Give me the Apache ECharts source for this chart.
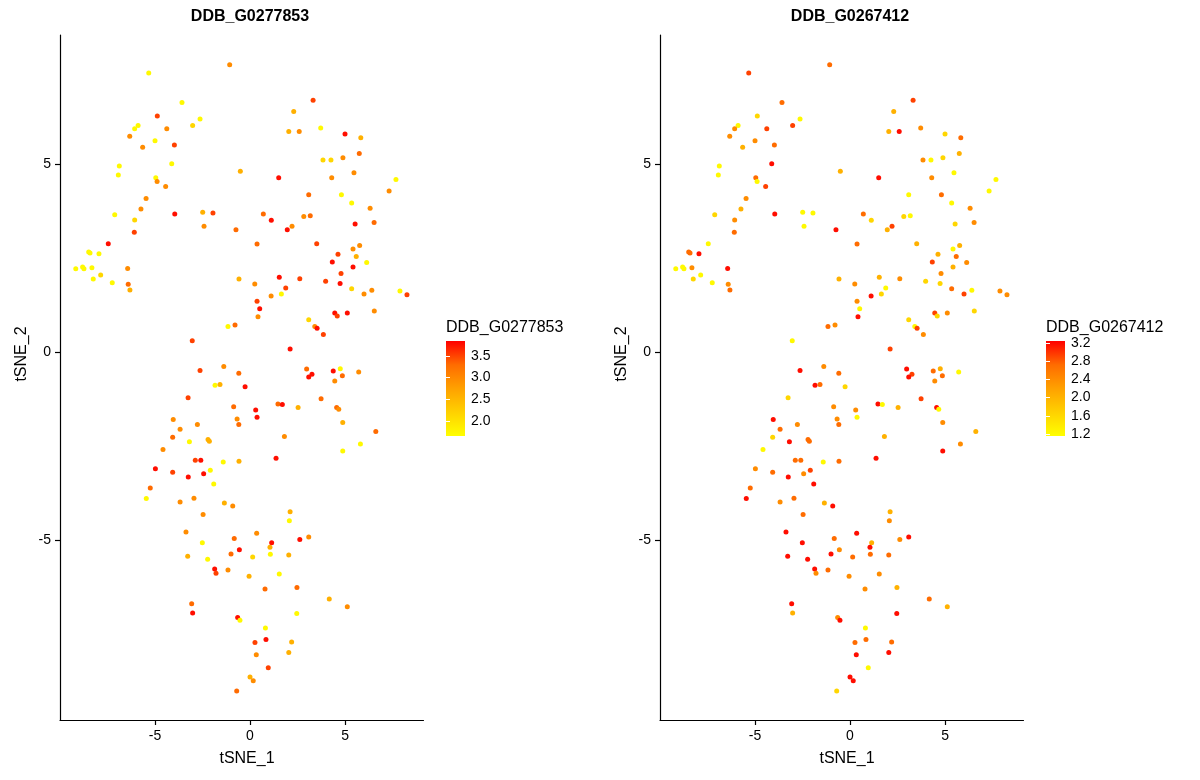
<!DOCTYPE html>
<html><head><meta charset="utf-8">
<script src="https://cdn.jsdelivr.net/npm/echarts@6/dist/echarts.min.js"></script>
<style>html,body{margin:0;padding:0;background:#fff}#c{width:1200px;height:780px}</style>
</head><body><div id="c"></div>
<script>
const genes = ['DDB_G0277853', 'DDB_G0267412'];
const axisNames = ['tSNE_1', 'tSNE_2'];
const tsne1 = [
 -1.07,-5.33,-3.58,-4.88,-2.63,-5.89,-6.07,-4.38,-3.02,-6.33,
 -5.00,-5.65,-3.98,-4.12,-6.88,-6.93,-0.51,-4.96,-4.89,-4.44,
 -5.47,-5.74,-7.12,-6.07,-3.96,-2.49,-1.95,-6.09,-2.42,-0.74,
 -7.46,-8.49,-8.42,-7.95,-9.17,-8.81,-8.74,-8.32,-6.44,-8.25,
 -7.86,-0.58,-7.25,-6.41,-6.32,
 3.32,2.30,2.04,2.59,3.72,5.00,5.83,3.84,4.26,4.89,
 5.75,1.51,4.30,5.47,7.68,7.32,3.09,4.81,5.35,6.32,
 0.70,1.12,2.83,3.17,1.96,2.21,5.53,6.53,0.37,3.51,
 4.63,5.42,5.77,5.59,6.14,4.33,5.42,4.79,1.54,2.62,
 3.98,4.74,1.88,0.25,1.11,1.65,5.35,6.00,6.41,7.89,
 8.26,0.37,0.51,0.42,6.54,4.46,4.59,5.12,3.09,3.41,
 3.53,3.86,2.11,2.98,3.26,3.09,4.38,4.75,4.86,4.46,
 5.72,-0.26,3.74,1.47,1.70,2.53,4.56,4.67,0.30,0.37,
 -0.59,4.88,6.62,1.81,5.81,4.88,1.37,-0.58,-1.16,-0.79,
 -3.04,-2.63,-1.38,-0.59,-1.84,-1.58,-3.26,-0.86,-4.04,-2.77,
 -0.68,-3.68,-4.07,-3.19,-2.21,-2.14,-4.58,-2.88,-2.59,-1.41,
 -4.98,-4.07,-3.25,-2.44,-2.09,-1.91,-5.25,-5.46,-2.95,-3.68,
 -1.35,-0.91,-2.47,2.11,2.07,-3.37,0.35,-0.83,-2.51,1.14,
 2.62,3.09,-0.56,1.05,-3.28,-2.23,-1.00,0.14,1.07,2.04,
 -1.86,-1.79,-1.16,-0.05,1.54,0.79,2.47,4.17,5.12,-3.07,
 -3.02,-0.65,-0.53,2.46,0.81,0.84,0.26,2.19,0.33,2.04,
 0.96,0.00,0.17,-0.70
];
const tsne2 = [
 7.63,7.41,6.63,6.27,6.19,6.02,5.93,5.93,6.02,5.73,
 5.61,5.44,5.50,5.00,4.94,4.70,4.80,4.63,4.53,4.40,
 4.08,3.80,3.65,3.51,3.67,3.71,3.69,3.18,3.34,3.25,
 2.88,2.66,2.63,2.61,2.21,2.26,2.21,2.24,2.22,1.94,
 2.05,1.94,1.84,1.80,1.65,
 6.69,6.39,5.86,5.86,5.95,5.79,5.69,5.10,5.10,5.16,
 5.27,4.63,4.63,4.76,4.58,4.28,4.18,4.18,3.96,3.82,
 3.67,3.50,3.60,3.62,3.25,3.34,3.40,3.44,2.87,2.88,
 2.60,2.74,2.83,2.54,2.38,2.39,2.26,2.09,1.99,1.95,
 1.88,1.82,1.70,1.81,1.49,1.54,1.68,1.54,1.64,1.62,
 1.52,1.35,1.15,0.94,1.09,1.04,0.96,1.04,0.86,0.68,
 0.63,0.47,0.08,-0.45,-0.59,-0.66,-0.50,-0.44,-0.63,-0.77,
 -0.53,-0.92,-1.24,-1.38,-1.39,-1.47,-1.47,-1.52,-1.54,-1.73,
 -1.92,-1.87,-2.11,-2.24,-2.44,-2.63,-2.82,-2.90,0.68,0.72,
 0.30,-0.49,-0.38,-0.56,-0.88,-0.86,-1.21,-1.45,-1.79,-1.92,
 -1.78,-2.05,-2.26,-2.38,-2.32,-2.37,-2.59,-2.87,-2.87,-2.92,
 -3.10,-3.19,-3.32,-3.23,-3.14,-3.50,-3.61,-3.89,-3.88,-3.98,
 -4.01,-4.09,-4.31,-4.24,-4.48,-4.78,-4.81,-4.95,-5.06,-5.06,
 -4.98,-4.91,-5.25,-5.18,-5.42,-5.50,-5.36,-5.44,-5.37,-5.39,
 -5.76,-5.87,-5.79,-5.95,-5.89,-6.29,-6.25,-6.56,-6.76,-6.68,
 -6.93,-7.05,-7.12,-6.94,-7.33,-7.63,-7.71,-7.70,-8.04,-7.98,
 -8.38,-8.63,-8.73,-9.00
];
const exprA = [
 2.97,1.73,1.73,3.51,1.73,1.73,1.73,2.97,2.14,2.97,
 1.73,2.97,3.51,1.73,1.73,1.73,2.58,1.73,2.97,2.97,
 2.97,2.97,1.73,2.14,3.77,2.58,3.51,3.51,2.97,3.30,
 3.77,1.73,1.73,1.73,1.73,1.73,1.73,1.73,2.97,1.73,
 2.14,2.58,1.73,3.30,2.58,
 3.51,2.58,2.58,2.97,1.73,3.77,2.58,2.14,2.14,2.97,
 3.30,3.77,2.97,2.97,1.73,2.97,3.30,1.73,1.73,2.97,
 3.30,3.77,2.97,3.30,3.77,2.97,3.77,3.30,3.30,3.51,
 3.51,2.97,2.97,2.58,1.73,3.77,3.77,3.51,3.77,3.51,
 3.51,3.77,3.51,2.97,2.97,1.73,2.14,2.97,2.97,1.73,
 3.51,3.51,3.77,2.97,2.97,3.77,3.51,3.77,2.14,2.97,
 3.77,3.51,3.77,3.30,3.77,3.77,3.77,1.73,3.30,2.97,
 2.97,3.77,3.30,3.30,3.77,2.58,3.30,2.97,3.77,3.77,
 3.30,2.58,3.30,2.97,1.73,1.73,3.77,2.58,1.73,3.30,
 3.51,3.51,2.97,3.30,1.73,2.58,3.51,3.30,2.97,2.97,
 2.97,2.97,3.30,1.73,2.58,2.58,2.97,3.51,3.77,1.73,
 3.77,3.51,3.77,3.77,1.73,1.73,3.30,1.73,2.97,2.97,
 2.58,2.97,2.97,2.58,1.73,2.97,2.97,3.30,1.73,3.77,
 3.77,2.97,3.77,2.58,2.58,1.73,3.30,2.14,1.73,2.58,
 3.77,3.51,2.97,2.58,1.73,3.30,3.30,2.58,2.97,3.30,
 3.77,3.77,1.73,1.73,1.73,3.77,3.51,2.58,2.97,2.58,
 3.51,2.58,2.97,3.30
];
const exprB = [
 2.72,2.93,2.72,1.62,1.22,1.22,2.41,2.93,2.93,2.41,
 2.41,2.03,2.72,3.18,1.22,1.22,2.03,2.72,1.22,2.93,
 2.41,2.03,1.62,2.41,3.18,1.22,1.22,2.72,1.22,3.18,
 1.22,2.72,2.72,3.18,1.22,1.22,1.22,2.41,3.18,1.62,
 1.22,2.03,1.22,2.41,2.72,
 2.93,2.03,2.03,3.18,2.41,1.62,2.72,2.41,1.22,1.62,
 2.03,3.18,2.41,1.22,1.22,1.22,1.22,2.72,1.22,2.41,
 2.72,1.62,1.62,1.22,2.03,2.93,1.62,2.41,2.72,2.03,
 2.03,1.22,2.03,2.72,2.41,2.93,2.03,2.41,2.03,2.41,
 1.62,1.62,1.22,2.41,3.18,1.62,2.72,2.93,1.22,2.41,
 2.41,2.41,1.22,3.18,1.62,2.93,1.62,2.41,1.62,1.22,
 2.93,2.41,2.93,3.18,2.93,3.18,2.72,2.03,2.72,2.41,
 1.22,1.62,2.93,3.18,1.22,2.03,3.18,1.22,2.41,1.22,
 2.72,2.41,2.03,2.03,2.41,3.18,3.18,2.72,2.72,2.41,
 1.22,3.18,2.41,2.72,3.18,2.72,1.62,2.41,3.18,2.41,
 2.41,2.72,1.62,3.18,2.72,2.72,1.22,2.72,2.72,1.22,
 2.41,2.72,3.18,2.41,2.93,3.18,2.72,3.18,2.72,2.41,
 2.03,3.18,2.72,2.03,2.41,3.18,3.18,2.72,3.18,2.03,
 2.41,3.18,2.41,3.18,3.18,3.18,3.18,2.72,2.72,2.72,
 3.18,2.41,2.72,2.41,2.41,2.41,2.03,2.72,2.03,3.18,
 2.03,2.41,3.18,3.18,1.22,2.72,2.72,2.72,3.18,3.18,
 1.22,3.18,3.18,1.62
];
const axisTicks = [-5, 0, 5];
const legendTicksA = [2.0, 2.5, 3.0, 3.5];
const legendTicksB = [1.2, 1.6, 2.0, 2.4, 2.8, 3.2];
const rangeA = [1.66, 3.84];
const rangeB = [1.156, 3.245];

const FONT = '"Liberation Sans", Arial, Helvetica, sans-serif';
const rampColors = ['#FFFF00', '#FFD100', '#FFA100', '#FF6C00', '#FF0000'];
const barGradient = {
  type: 'linear', x: 0, y: 0, x2: 0, y2: 1,
  colorStops: rampColors.slice().reverse().map((c, i, a) => ({ offset: i / (a.length - 1), color: c }))
};

const panelW = 363.5, panelTop = 35, panelH = 685;
const panels = [
  { left: 60, legendLeft: 446, vals: exprA, range: rangeA, ticks: legendTicksA, title: genes[0], cx: 250 },
  { left: 660, legendLeft: 1046, vals: exprB, range: rangeB, ticks: legendTicksB, title: genes[1], cx: 850 }
];

const grid = [], xAxis = [], yAxis = [], series = [], visualMap = [], graphic = [];
const txt = (s, x, y, font, align, rot) => ({
  type: 'text', x, y, rotation: rot || 0,
  style: { text: s, font, fill: '#000', textAlign: align, align, textVerticalAlign: 'middle', verticalAlign: 'middle' }
});
panels.forEach((p, k) => {
  grid.push({ left: p.left, top: panelTop, width: panelW, height: panelH, containLabel: false });
  xAxis.push({
    gridIndex: grid.length - 1, type: 'value', min: -10, max: 9.13,
    axisLine: { show: true, onZero: false, lineStyle: { color: '#000', width: 1.2 } },
    axisTick: { show: true, length: 5, customValues: axisTicks, lineStyle: { color: '#000', width: 1.2 } },
    axisLabel: { customValues: axisTicks, fontFamily: FONT, fontSize: 14, color: '#000', margin: 9 },
    splitLine: { show: false }
  });
  yAxis.push({
    gridIndex: grid.length - 1, type: 'value', min: -9.77, max: 8.42,
    axisLine: { show: true, onZero: false, lineStyle: { color: '#000', width: 1.2 } },
    axisTick: { show: true, length: 5, customValues: axisTicks, lineStyle: { color: '#000', width: 1.2 } },
    axisLabel: { customValues: axisTicks, fontFamily: FONT, fontSize: 14, color: '#000', margin: 9 },
    splitLine: { show: false }
  });
  const gi = grid.length - 1;
  series.push({
    type: 'scatter', xAxisIndex: gi, yAxisIndex: gi, symbolSize: 5,
    itemStyle: { opacity: 1 },
    data: tsne1.map((x, i) => [x, tsne2[i], p.vals[i]]),
    silent: true, animation: false
  });
  visualMap.push({
    type: 'continuous', show: false, seriesIndex: k, dimension: 2,
    min: p.range[0], max: p.range[1], inRange: { color: rampColors }
  });
  // colour bar as a small grid with its own value axis
  grid.push({ left: p.legendLeft, top: 341, width: 19, height: 95, show: true, backgroundColor: barGradient, borderWidth: 0 });
  const lg = grid.length - 1;
  xAxis.push({ gridIndex: lg, type: 'value', min: 0, max: 1, show: false });
  yAxis.push({
    gridIndex: lg, type: 'value', position: 'right', min: p.range[0], max: p.range[1],
    axisLine: { show: false },
    axisTick: { show: true, inside: true, length: 4, customValues: p.ticks, lineStyle: { color: '#fff', width: 1 } },
    axisLabel: { customValues: p.ticks, formatter: v => v.toFixed(1), fontFamily: FONT, fontSize: 14, color: '#000', margin: 6 },
    splitLine: { show: false }
  });
  yAxis.push({
    gridIndex: lg, type: 'value', position: 'left', min: p.range[0], max: p.range[1],
    axisLine: { show: false },
    axisTick: { show: true, inside: true, length: 4, customValues: p.ticks, lineStyle: { color: '#fff', width: 1 } },
    axisLabel: { show: false }, splitLine: { show: false }
  });
  graphic.push(txt(p.title, p.cx, 17, 'bold 16px ' + FONT, 'center'));
  graphic.push(txt(p.title, p.legendLeft, 328, '16px ' + FONT, 'left'));
  graphic.push(txt(axisNames[0], p.cx - 3, 759, '16px ' + FONT, 'center'));
  graphic.push(txt(axisNames[1], p.left - 38, 354, '16px ' + FONT, 'center', Math.PI / 2));
});

// yAxis order: [main0, leg0R, leg0L, main1, leg1R, leg1L]; xAxis order: [main0, leg0, main1, leg1]
series[0].xAxisIndex = 0; series[0].yAxisIndex = 0;
series[1].xAxisIndex = 2; series[1].yAxisIndex = 3;

const chart = echarts.init(document.getElementById('c'), null, { renderer: 'canvas' });
chart.setOption({
  backgroundColor: '#fff',
  animation: false,
  grid, xAxis, yAxis, series, visualMap, graphic
});
</script></body></html>
